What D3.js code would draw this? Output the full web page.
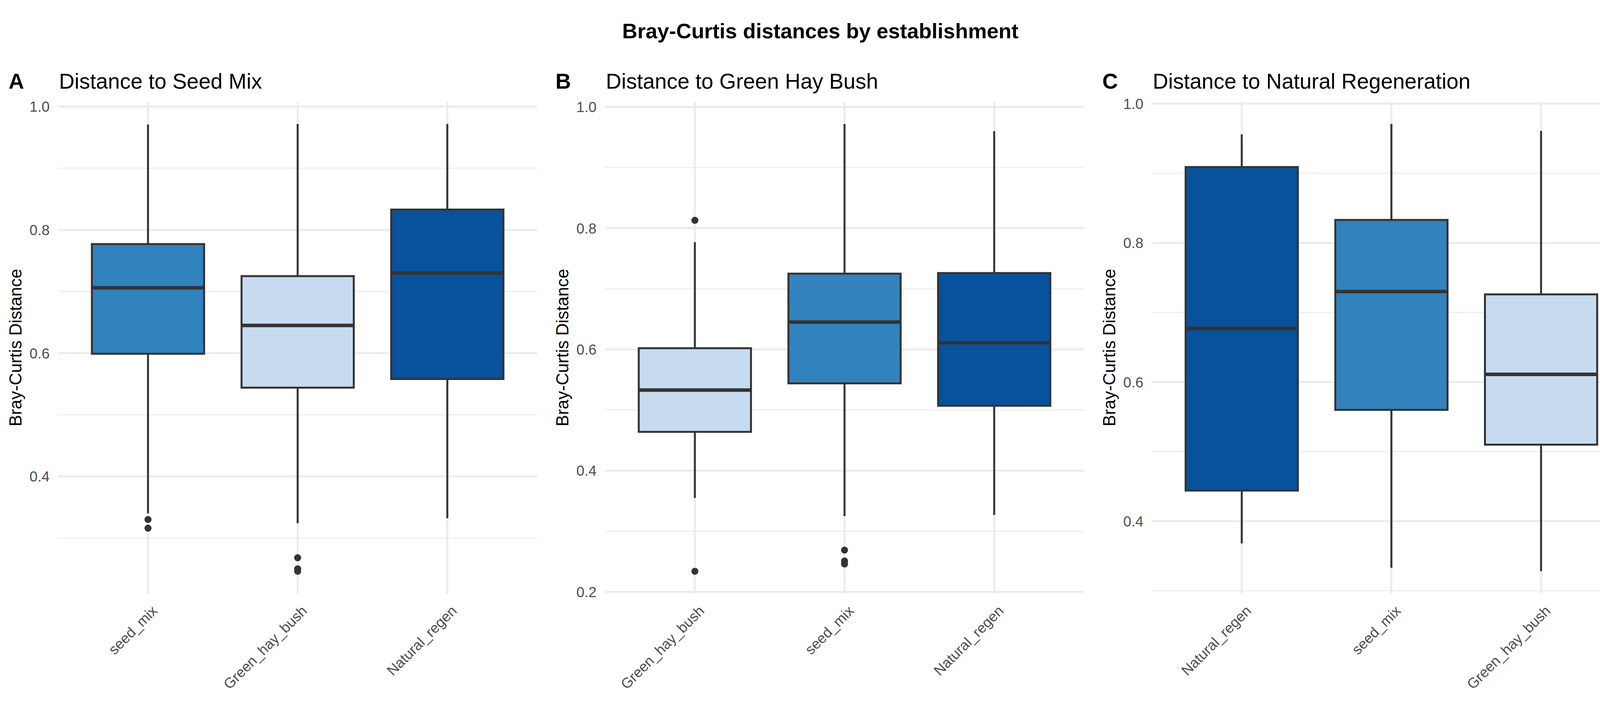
<!DOCTYPE html>
<html><head><meta charset="utf-8">
<script src="https://cdn.jsdelivr.net/npm/d3@7"></script>
<style>body{margin:0;background:#fff}</style>
</head><body>
<svg id="c" width="4200" height="1800"></svg>
<script>
const panelLetters = ["A","B","C"];
const panelTitles = ["Distance to Seed Mix","Distance to Green Hay Bush","Distance to Natural Regeneration"];
const panelCategories = [
  ["seed_mix","Green_hay_bush","Natural_regen"],
  ["Green_hay_bush","seed_mix","Natural_regen"],
  ["Natural_regen","seed_mix","Green_hay_bush"]
];
// [lowerWhisker, Q1, median, Q3, upperWhisker]
const statsA = [[0.340,0.599,0.706,0.777,0.971],[0.324,0.544,0.645,0.725,0.972],[0.332,0.558,0.730,0.833,0.972]];
const statsB = [[0.355,0.464,0.533,0.602,0.777],[0.325,0.544,0.645,0.725,0.972],[0.327,0.507,0.611,0.726,0.960]];
const statsC = [[0.368,0.444,0.677,0.909,0.956],[0.333,0.560,0.730,0.833,0.971],[0.328,0.510,0.611,0.726,0.961]];
const outliersA = [[0.330,0.316],[0.268,0.250,0.246],[]];
const outliersB = [[0.813,0.234],[0.269,0.251,0.246],[]];
const outliersC = [[],[],[]];
const yTicks = [[0.4,0.6,0.8,1.0],[0.2,0.4,0.6,0.8,1.0],[0.4,0.6,0.8,1.0]];
const yMinor = [[0.3,0.5,0.7,0.9],[0.3,0.5,0.7,0.9],[0.3,0.5,0.7,0.9]];
const colorMap = {seed_mix:"#3182bd", Green_hay_bush:"#c6dbef", Natural_regen:"#08519c"};
const allStats=[statsA,statsB,statsC], allOut=[outliersA,outliersB,outliersC];

const svg=d3.select("#c");
const font="Liberation Sans, Arial, sans-serif";
svg.append("text").attr("x",2100).attr("y",98).attr("text-anchor","middle")
  .attr("font-family",font).attr("font-weight","bold").attr("font-size",54).text("Bray-Curtis distances by establishment");

const panelX=[0,1400,2800];
panelX.forEach((ox,p)=>{
  const left=ox+149, right=ox+1375, top=260, bottom=1520;
  const st=allStats[p], out=allOut[p];
  const vals=st.flat().concat(out.flat());
  const mn=d3.min(vals), mx=d3.max(vals), pad=(mx-mn)*0.05;
  const y=d3.scaleLinear().domain([mn-pad,mx+pad]).range([bottom,top]);
  const xc=d3.scaleLinear().domain([0.4,3.6]).range([left,right]);
  const g=svg.append("g");
  // grid
  yMinor[p].forEach(v=>{ if(v>=y.domain()[0]) g.append("line").attr("x1",left).attr("x2",right).attr("y1",y(v)).attr("y2",y(v)).attr("stroke","#ebebeb").attr("stroke-width",2.5);});
  yTicks[p].forEach(v=>{ g.append("line").attr("x1",left).attr("x2",right).attr("y1",y(v)).attr("y2",y(v)).attr("stroke","#ebebeb").attr("stroke-width",5);
    g.append("text").attr("x",left-22).attr("y",y(v)).attr("dy","0.36em").attr("text-anchor","end").attr("font-family",font).attr("font-size",37).attr("fill","#4d4d4d").text(v.toFixed(1));});
  panelCategories[p].forEach((c,i)=>{
    const cx=xc(i+1);
    g.append("line").attr("x1",cx).attr("x2",cx).attr("y1",top).attr("y2",bottom).attr("stroke","#ebebeb").attr("stroke-width",5);
    g.append("text").attr("transform",`translate(${cx+8},${bottom+28}) rotate(-45)`).attr("text-anchor","end").attr("dy","0.7em")
      .attr("font-family",font).attr("font-size",37).attr("fill","#4d4d4d").text(c);
  });
  panelCategories[p].forEach((c,i)=>{
    const cx=xc(i+1), hw=(xc(1.375)-xc(1));
    const [lo,q1,md,q3,hi]=st[i];
    g.append("line").attr("x1",cx).attr("x2",cx).attr("y1",y(hi)).attr("y2",y(q3)).attr("stroke","#333").attr("stroke-width",5);
    g.append("line").attr("x1",cx).attr("x2",cx).attr("y1",y(q1)).attr("y2",y(lo)).attr("stroke","#333").attr("stroke-width",5);
    g.append("rect").attr("x",cx-hw).attr("width",2*hw).attr("y",y(q3)).attr("height",y(q1)-y(q3))
      .attr("fill",colorMap[c]).attr("stroke","#333").attr("stroke-width",5);
    g.append("line").attr("x1",cx-hw).attr("x2",cx+hw).attr("y1",y(md)).attr("y2",y(md)).attr("stroke","#333").attr("stroke-width",9);
    out[i].forEach(v=>g.append("circle").attr("cx",cx).attr("cy",y(v)).attr("r",9).attr("fill","#333"));
  });
  svg.append("text").attr("x",ox+22).attr("y",227).attr("font-family",font).attr("font-weight","bold").attr("font-size",55).text(panelLetters[p]);
  svg.append("text").attr("x",ox+151).attr("y",227).attr("font-family",font).attr("font-size",55).text(panelTitles[p]);
  svg.append("text").attr("transform",`translate(${ox+55},${(top+bottom)/2}) rotate(-90)`).attr("text-anchor","middle")
    .attr("font-family",font).attr("font-size",44).text("Bray-Curtis Distance");
});
</script>
</body></html>
